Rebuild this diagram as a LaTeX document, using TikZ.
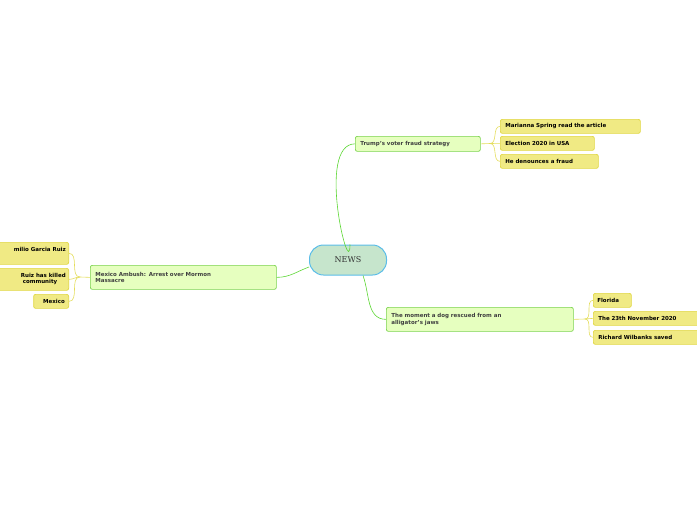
\documentclass[tikz,border=0pt]{standalone}
\usepackage{fontspec}
\setmainfont{DejaVu Sans}
\begin{document}
\begin{tikzpicture}[x=1pt,y=-1pt,
  mid/.style={draw=green!50!olive!70, fill=green!40!yellow!25!white, line width=0.7pt, rounded corners=2pt, font=\bfseries\fontsize{5.5}{6.5}\selectfont, text=black!75, align=left, inner sep=0pt, anchor=north west},
  leaf/.style={draw=yellow!60!olive!70, fill=yellow!70!olive!45!white, line width=0.7pt, rounded corners=2pt, font=\bfseries\fontsize{5.5}{6.5}\selectfont, text=black, inner sep=0pt, anchor=north west},
  lnk/.style={draw=green!60!olive!80, line width=0.6pt},
  llnk/.style={draw=yellow!60!olive!60, line width=0.6pt}]
\useasboundingbox (0,0) rectangle (697,520);
\clip (0,0) rectangle (697,520);
\definecolor{ctr}{HTML}{C6E5CC}\definecolor{ctrb}{HTML}{5BBDE8}
\node[draw=ctrb, fill=ctr, line width=1pt, rounded corners=14pt, minimum width=77pt, minimum height=30pt, font=\bfseries\fontsize{8}{9}\selectfont\setmainfont{DejaVu Serif}, text=black!80] (news) at (348,260) {NEWS};
% Trump
\node[mid, minimum width=125pt, minimum height=15pt, text width=115pt, inner xsep=5pt] (tr) at (355,136) {Trump's voter fraud strategy};
\node[leaf, minimum width=137pt, minimum height=14pt, text width=130pt, inner xsep=5pt] (t1) at (500,119) {Marianna Spring read the article};
\node[leaf, minimum width=91pt, minimum height=14pt, text width=84pt, inner xsep=5pt] (t2) at (500,136) {Election 2020 in USA};
\node[leaf, minimum width=95pt, minimum height=14pt, text width=88pt, inner xsep=5pt] (t3) at (500,154) {He denounces a fraud};
% Mexico
\node[mid, minimum width=186pt, minimum height=24pt, text width=176pt, inner xsep=5pt] (mx) at (90,265) {Mexico Ambush: Arrest over Mormon\\Massacre};
\node[leaf, minimum width=110pt, minimum height=22pt, anchor=north east] (m1) at (69,242) {};
\node[font=\bfseries\fontsize{5.5}{6.5}\selectfont, anchor=east, inner sep=0pt] at (66,249) {milio Garcia Ruiz};
\node[leaf, minimum width=110pt, minimum height=22pt, anchor=north east] (m2) at (69,268) {};
\node[font=\bfseries\fontsize{5.5}{6.5}\selectfont, anchor=east, inner sep=0pt, align=right] at (66,279) {Ruiz has killed\\community\hphantom{ed\,}};
\node[leaf, minimum width=35pt, minimum height=14pt, anchor=north east] (m3) at (69,294) {};
\node[font=\bfseries\fontsize{5.5}{6.5}\selectfont, anchor=east, inner sep=0pt] at (65,301) {Mexico};
% Dog
\node[mid, minimum width=187pt, minimum height=24pt, text width=177pt, inner xsep=5pt] (dg) at (386,307) {The moment a dog rescued from an\\alligator's jaws};
\node[leaf, minimum width=36pt, minimum height=14pt, text width=30pt, inner xsep=4pt] (d1) at (593,293) {Florida};
\node[leaf, minimum width=120pt, minimum height=14pt, text width=110pt, inner xsep=4pt] (d2) at (593,311) {The 23th November 2020};
\node[leaf, minimum width=120pt, minimum height=14pt, text width=110pt, inner xsep=4pt] (d3) at (593,330) {Richard Wilbanks saved};
% links
\draw[lnk] (news.north) ++(2,0) to[out=-90,in=180] (tr.west);
\draw[lnk] (news.west) ++(0,7) to[out=200,in=0] (mx.east);
\draw[lnk] (news.south) ++(15,0) to[out=-70,in=180] (dg.west);
\coordinate (tj) at (490,143.5);
\draw[llnk] (tr.east) -- (tj);
\foreach \n in {t1,t2,t3} \draw[llnk] (tj) to[out=0,in=180] (\n.west);
\coordinate (mj) at (80,277);
\draw[llnk] (mx.west) -- (mj);
\foreach \n in {m1,m2,m3} \draw[llnk] (mj) to[out=180,in=0] (\n.east);
\coordinate (dj) at (585,319);
\draw[llnk] (dg.east) -- (dj);
\foreach \n in {d1,d2,d3} \draw[llnk] (dj) to[out=0,in=180] (\n.west);
\end{tikzpicture}
\end{document}
